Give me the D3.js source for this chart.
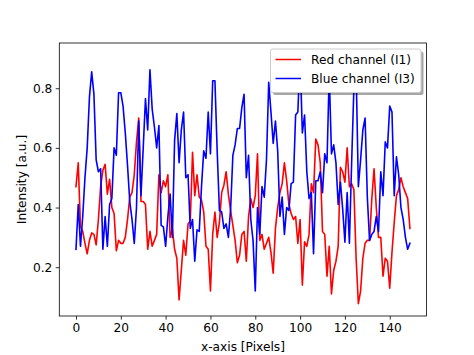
<!DOCTYPE html>
<html>
<head>
<meta charset="utf-8">
<script src="https://cdn.jsdelivr.net/npm/d3@7"></script>
<style>
  html, body { margin: 0; padding: 0; background: #fff; }
  svg { display: block; font-family: "DejaVu Sans", sans-serif; }
</style>
</head>
<body>
<div id="chart"></div>
<script>
// Intensity profile along the x-axis, one value per pixel (0..149)
const redChannel = [
  0.47, 0.55, 0.335, 0.32, 0.28, 0.245, 0.29, 0.315, 0.31, 0.275,
  0.36, 0.47, 0.525, 0.545, 0.445, 0.495, 0.40, 0.38, 0.255, 0.29,
  0.28, 0.28, 0.30, 0.36, 0.435, 0.45, 0.51, 0.62, 0.70, 0.42,
  0.42, 0.41, 0.26, 0.32, 0.27, 0.29, 0.31, 0.51, 0.45, 0.49,
  0.47, 0.51, 0.30, 0.33, 0.26, 0.23, 0.09, 0.19, 0.29, 0.24,
  0.345, 0.355, 0.585, 0.44, 0.51, 0.435, 0.425, 0.385, 0.27, 0.26,
  0.12, 0.31, 0.385, 0.30, 0.35, 0.45, 0.475, 0.52, 0.445, 0.39,
  0.34, 0.29, 0.215, 0.24, 0.31, 0.32, 0.22, 0.37, 0.43, 0.40,
  0.44, 0.58, 0.29, 0.31, 0.26, 0.28, 0.30, 0.25, 0.18, 0.33,
  0.40, 0.45, 0.48, 0.55, 0.49, 0.41, 0.38, 0.36, 0.37, 0.28,
  0.36, 0.14, 0.285, 0.27, 0.31, 0.48, 0.45, 0.63, 0.61, 0.55,
  0.32, 0.31, 0.17, 0.27, 0.11, 0.19, 0.22, 0.27, 0.535, 0.52,
  0.485, 0.60, 0.47, 0.48, 0.46, 0.23, 0.078, 0.12, 0.23, 0.28,
  0.29, 0.29, 0.43, 0.53, 0.40, 0.30, 0.30, 0.17, 0.23, 0.22,
  0.13, 0.25, 0.35, 0.44, 0.46, 0.50, 0.47, 0.45, 0.43, 0.33
]

const blueChannel = [
  0.26, 0.41, 0.27, 0.37, 0.50, 0.60, 0.77, 0.855, 0.78, 0.56,
  0.52, 0.53, 0.26, 0.37, 0.27, 0.41, 0.43, 0.60, 0.575, 0.785,
  0.785, 0.74, 0.65, 0.54, 0.42, 0.36, 0.28, 0.40, 0.69, 0.44,
  0.60, 0.765, 0.66, 0.862, 0.73, 0.67, 0.60, 0.675, 0.34, 0.335,
  0.27, 0.37, 0.445, 0.30, 0.625, 0.715, 0.55, 0.66, 0.72, 0.50,
  0.51, 0.33, 0.36, 0.22, 0.325, 0.32, 0.47, 0.59, 0.565, 0.72,
  0.58, 0.825, 0.825, 0.59, 0.39, 0.385, 0.33, 0.345, 0.30, 0.395,
  0.575, 0.61, 0.665, 0.665, 0.735, 0.78, 0.50, 0.575, 0.36, 0.29,
  0.12, 0.40, 0.31, 0.47, 0.435, 0.56, 0.82, 0.72, 0.615, 0.69,
  0.59, 0.37, 0.435, 0.31, 0.40, 0.39, 0.48, 0.485, 0.71, 0.72,
  0.91, 0.65, 0.71, 0.52, 0.43, 0.45, 0.245, 0.49, 0.49, 0.52,
  0.45, 0.58, 0.55, 0.85, 0.58, 0.61, 0.55, 0.41, 0.485, 0.395,
  0.284, 0.45, 0.28, 0.55, 0.80, 0.86, 0.47, 0.56, 0.66, 0.70,
  0.435, 0.29, 0.31, 0.32, 0.37, 0.32, 0.52, 0.44, 0.62, 0.60,
  0.74, 0.72, 0.44, 0.57, 0.51, 0.40, 0.36, 0.30, 0.26, 0.28
]

const xTicks = [0, 20, 40, 60, 80, 100, 120, 140]
const yTicks = [0.2, 0.4, 0.6, 0.8]
const seriesLabels = ["Red channel (I1)", "Blue channel (I3)"]
const seriesColors = ["#ff0000", "#0000ff"]

const width = 474
const height = 355
const margin = { top: 43, right: 47.4, bottom: 39, left: 59.3 }
const fontSize = 12.2

const svg = d3.select("#chart")
  .append("svg")
  .attr("width", width)
  .attr("height", height)

const n = redChannel.length
const xPad = (n - 1) * 0.05
const x = d3.scaleLinear()
  .domain([-xPad, n - 1 + xPad])
  .range([margin.left, width - margin.right])

// matplotlib-like 5% margins on the data range
const all = redChannel.concat(blueChannel)
const [lo, hi] = d3.extent(all)
const yPad = (hi - lo) * 0.05
const y = d3.scaleLinear()
  .domain([lo - yPad, hi + yPad])
  .range([height - margin.bottom, margin.top])

const line = d3.line()
  .x((d, i) => x(i))
  .y(d => y(d))

const plot = svg.append("g")

;[redChannel, blueChannel].forEach((series, k) => {
  plot.append("path")
    .datum(series)
    .attr("d", line)
    .attr("fill", "none")
    .attr("stroke", seriesColors[k])
    .attr("stroke-width", 1.6)
    .attr("stroke-linejoin", "round")
    .attr("stroke-linecap", "square")
})

// Axes
const xAxis = svg.append("g")
  .attr("transform", `translate(0,${height - margin.bottom})`)
  .call(d3.axisBottom(x).tickValues(xTicks).tickSize(3.6).tickPadding(3.4).tickFormat(d3.format("d")))

const yAxis = svg.append("g")
  .attr("transform", `translate(${margin.left},0)`)
  .call(d3.axisLeft(y).tickValues(yTicks).tickSize(3.6).tickPadding(3.4).tickFormat(d3.format(".1f")))

;[xAxis, yAxis].forEach(g => {
  g.select(".domain").remove()
  g.selectAll(".tick line").attr("stroke", "#000").attr("stroke-width", 0.8)
  g.selectAll(".tick text")
    .attr("fill", "#000")
    .attr("font-size", fontSize)
    .attr("font-family", "DejaVu Sans, sans-serif")
})

// Frame
svg.append("rect")
  .attr("x", margin.left)
  .attr("y", margin.top)
  .attr("width", width - margin.left - margin.right)
  .attr("height", height - margin.top - margin.bottom)
  .attr("fill", "none")
  .attr("stroke", "#000")
  .attr("stroke-width", 0.8)

// Axis labels
svg.append("text")
  .attr("x", (margin.left + width - margin.right) / 2)
  .attr("y", 351)
  .attr("text-anchor", "middle")
  .attr("font-size", fontSize)
  .text("x-axis [Pixels]")

svg.append("text")
  .attr("transform", `translate(25.5,${(margin.top + height - margin.bottom) / 2}) rotate(-90)`)
  .attr("text-anchor", "middle")
  .attr("font-size", fontSize)
  .text("Intensity [a.u.]")

// Legend (upper right, with shadow)
const legend = svg.append("g").attr("transform", "translate(270.5,49)")
const lw = 150.5
const lh = 43.5

legend.append("rect")
  .attr("x", 2.5).attr("y", 2.5)
  .attr("width", lw).attr("height", lh)
  .attr("rx", 2.5)
  .attr("fill", "#000")
  .attr("opacity", 0.35)

legend.append("rect")
  .attr("width", lw).attr("height", lh)
  .attr("rx", 2.5)
  .attr("fill", "#fff")
  .attr("stroke", "#cccccc")
  .attr("stroke-width", 1)

seriesLabels.forEach((label, k) => {
  const cy = 10.5 + k * 19
  legend.append("line")
    .attr("x1", 5).attr("x2", 30.5)
    .attr("y1", cy).attr("y2", cy)
    .attr("stroke", seriesColors[k])
    .attr("stroke-width", 1.5)
  legend.append("text")
    .attr("x", 40.5)
    .attr("y", cy + 4.4)
    .attr("font-size", fontSize)
    .text(label)
})
</script>
</body>
</html>
